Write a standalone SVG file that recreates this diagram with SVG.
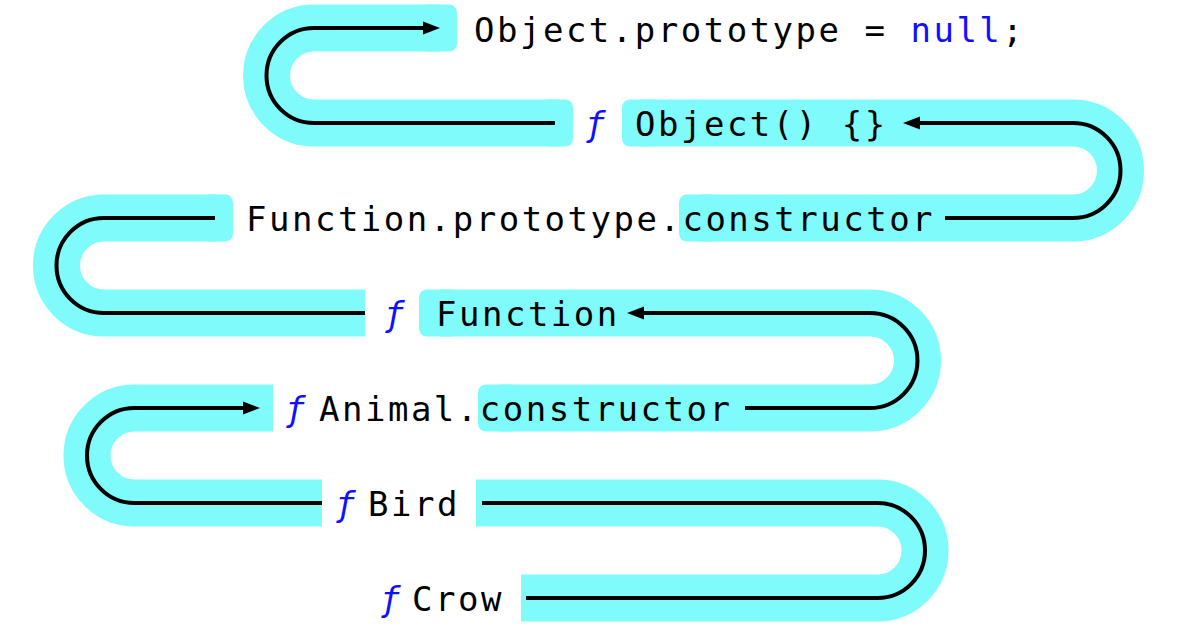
<svg xmlns="http://www.w3.org/2000/svg" width="1200" height="632" viewBox="0 0 1200 632">
<style>
.band{fill:none;stroke:#80fbfb;stroke-width:47}
.bend{fill:#80fbfb}
.wire{fill:none;stroke:#000;stroke-width:4}
.code{font-family:"DejaVu Sans Mono","Liberation Mono",monospace;font-size:34px;letter-spacing:2.5px;fill:#000}
.fn{font-family:"DejaVu Sans Mono","Liberation Mono",monospace;font-size:34px;font-style:italic;fill:#1010ff}
.kw{fill:#1010ff}
</style>
<defs>
<marker id="arrow" markerUnits="userSpaceOnUse" markerWidth="20" markerHeight="16" refX="7" refY="8" orient="auto">
<path d="M0,1.5 L17,8 L0,14.5 z" fill="#000"/>
</marker>
</defs>
<rect width="1200" height="632" fill="#fff"/>
<g id="highlights">
<path class="band" d="M440 28 H314 A47.5 47.5 0 0 0 314 123 H560"/>
<rect class="bend" x="420" y="4.5" width="37" height="47" rx="8"/>
<rect class="bend" x="540" y="99.5" width="33" height="47" rx="8"/>
<path class="band" d="M640 123 H1073 A47.5 47.5 0 0 1 1073 218 H700"/>
<rect class="bend" x="622" y="99.5" width="40" height="47" rx="8"/>
<rect class="bend" x="679" y="194.5" width="40" height="47" rx="8"/>
<path class="band" d="M215 218 H104 A47.5 47.5 0 0 0 104 313 H365"/>
<rect class="bend" x="200" y="194.5" width="33" height="47" rx="8"/>
<path class="band" d="M440 313 H870 A47.5 47.5 0 0 1 870 408 H500"/>
<rect class="bend" x="419" y="289.5" width="40" height="47" rx="8"/>
<rect class="bend" x="478" y="384.5" width="40" height="47" rx="8"/>
<path class="band" d="M273 408 H134.5 A47.5 47.5 0 0 0 134.5 503 H322"/>
<path class="band" d="M476 503 H877.5 A47.5 47.5 0 0 1 877.5 598 H521"/>
</g>
<g id="connectors">
<path class="wire" d="M555 123 H314 A47.5 47.5 0 0 1 314 28 H430" marker-end="url(#arrow)"/>
<path class="wire" d="M945 218 H1073 A47.5 47.5 0 0 0 1073 123 H913" marker-end="url(#arrow)"/>
<path class="wire" d="M215 218 H104 A47.5 47.5 0 0 0 104 313 H365"/>
<path class="wire" d="M745 408 H870 A47.5 47.5 0 0 0 870 313 H637" marker-end="url(#arrow)"/>
<path class="wire" d="M322 503 H134.5 A47.5 47.5 0 0 1 134.5 408 H250" marker-end="url(#arrow)"/>
<path class="wire" d="M482 503 H877.5 A47.5 47.5 0 0 1 877.5 598 H526"/>
</g>
<g id="node-object-prototype">
<text class="code" x="474" y="42">Object.prototype = <tspan class="kw">null</tspan>;</text>
</g>
<g id="node-object">
<text class="fn" x="585" y="136">ƒ</text>
<text class="code" x="635" y="136">Object() {}</text>
</g>
<g id="node-function-prototype-constructor">
<text class="code" x="246" y="231">Function.prototype.constructor</text>
</g>
<g id="node-function">
<text class="fn" x="384" y="326">ƒ</text>
<text class="code" x="436" y="326">Function</text>
</g>
<g id="node-animal-constructor">
<text class="fn" x="285" y="421">ƒ</text>
<text class="code" x="319" y="421">Animal.constructor</text>
</g>
<g id="node-bird">
<text class="fn" x="335" y="516">ƒ</text>
<text class="code" x="368" y="516">Bird</text>
</g>
<g id="node-crow">
<text class="fn" x="380" y="611">ƒ</text>
<text class="code" x="412" y="611">Crow</text>
</g>
</svg>
